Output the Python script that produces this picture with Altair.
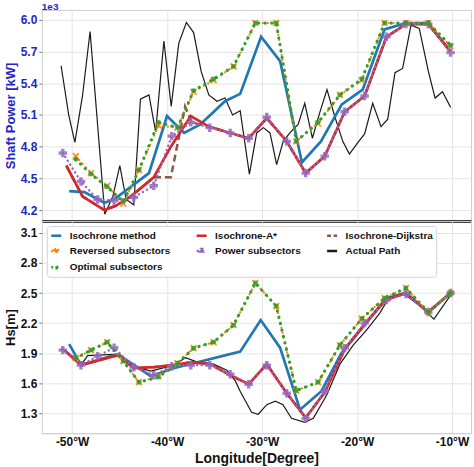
import altair as alt
import pandas as pd

FONT = "Liberation Sans"
BLUE = "#2424c4"
GRID = "#e4e4e4"

SERIES = ["Isochrone method", "Isochrone-A*", "Isochrone-Dijkstra",
          "Reversed subsectors", "Power subsectors", "Actual Path",
          "Optimal subsectors"]
COLORS = ["#1f77b4", "#d62728", "#8c564b", "#ff7f0e", "#9467bd", "#1a1a1a", "#2ca02c"]

LON_TICKS = [-50, -40, -30, -20, -10]
KW_TICKS = [4200, 4500, 4800, 5100, 5400, 5700, 6000]
HS_TICKS = [1.3, 1.6, 1.9, 2.2, 2.5, 2.8, 3.1]

# ---------------- shaft power [kW] ----------------
iso_lon_p = [-50.3, -48.7, -46.6, -45.6, -41.9, -40.0, -38.2, -36.5, -33.9, -32.3,
             -30.1, -28.1, -25.8, -23.8, -21.6, -19.4, -17.1, -14.85, -12.5, -10.15]
iso_kw = [4380, 4370, 4270, 4300, 4550, 5090, 4930, 5010, 5230, 5300,
          5840, 5610, 4650, 4850, 5200, 5340, 5910, 5970, 5970, 5700]

astar_lon_p = [-50.6, -48.9, -46.6, -45.4, -43.8, -41.4, -39.6, -37.5, -35.6, -33.35,
               -31.4, -29.5, -27.4, -25.4, -23.4, -21.3, -19.2, -16.9, -14.85, -12.5, -10.15]
astar_kw = [4620, 4330, 4200, 4240, 4330, 4510, 4800, 5090, 4990, 4930,
            4880, 5070, 4850, 4550, 4710, 5130, 5280, 5840, 5960, 5960, 5700]

dijk_lon_p = [-50.6, -48.9, -46.6, -45.4, -43.8, -41.4, -39.6, -38.1, -37.4, -35.6, -33.35,
              -31.4, -29.5, -27.4, -25.4, -23.4, -21.3, -19.2, -16.9, -14.85, -12.5, -10.15]
dijk_kw = [4620, 4330, 4200, 4240, 4330, 4510, 4510, 5180, 5030, 4990, 4930,
           4880, 5070, 4850, 4550, 4710, 5130, 5280, 5840, 5960, 5960, 5700]

power_lon = [-50.97, -49.06, -47.3, -45.57, -43.5, -41.4, -39.5, -37.5, -35.5, -33.35,
             -31.4, -29.5, -27.4, -25.4, -23.4, -21.3, -19.2, -16.9, -14.85, -12.5, -10.15]
power_kw = [4740, 4470, 4300, 4290, 4320, 4430, 4900, 5030, 4980, 4930,
            4880, 5080, 4850, 4550, 4710, 5130, 5280, 5840, 5960, 5960, 5690]

rev_lon = [-49.6, -48.0, -46.3, -44.6, -42.95, -40.9, -38.9, -37.2, -35.1, -33.0,
           -30.7, -28.5, -26.4, -24.1, -21.8, -19.5, -17.1, -14.85, -12.5, -10.15]
rev_kw = [4710, 4550, 4430, 4260, 4580, 5000, 4980, 5320, 5430, 5560,
          5970, 5970, 4850, 5020, 5290, 5430, 5970, 5970, 5970, 5750]
opt_kw = [4680, 4540, 4420, 4280, 4580, 5030, 4980, 5330, 5440, 5560,
          5970, 5970, 4850, 5030, 5290, 5440, 5970, 5970, 5970, 5760]

actual_lon_p = [-51.15, -50.35, -49.7, -48.9, -48.1, -46.55, -45.7, -44.97, -44.3, -43.5,
                -42.8, -41.9, -41.2, -40.33, -39.56, -38.76, -37.96, -37.2, -36.4, -35.6,
                -34.74, -33.9, -33.1, -32.3, -31.33, -30.56, -29.86, -29.16, -28.46, -27.77,
                -27.07, -26.2, -25.5, -24.7, -23.93, -23.16, -22.36, -21.5, -20.8, -19.9,
                -19.2, -18.35, -17.47, -16.77, -16.0, -15.2, -14.32, -13.45, -12.48, -11.78,
                -11.0, -10.14]
actual_kw = [5566, 5100, 4840, 5280, 5890, 4160, 4330, 4620, 4300, 4250,
             5250, 5290, 4940, 5800, 5180, 5780, 5975, 5880, 5510, 5290,
             5230, 5260, 5100, 5140, 4540, 4930, 4980, 4930, 4630, 4850,
             4930, 5010, 5210, 4880, 5120, 5340, 5090, 4850, 4730, 4840,
             4920, 5210, 4990, 5060, 5500, 5540, 5950, 5920, 5510, 5260,
             5320, 5170]

# ---------------- significant wave height [m] ----------------
iso_lon_h = [-50.3, -49.06, -45.2, -41.7, -39.3, -32.3, -30.14, -28.1, -26.0, -23.75,
             -21.65, -19.4, -17.1, -15.0, -12.5, -10.15]
iso_hs = [1.99, 1.78, 1.89, 1.67, 1.75, 1.915, 2.23, 1.955, 1.335, 1.52,
          1.90, 2.16, 2.43, 2.50, 2.31, 2.50]

astar_lon_h = [-50.8, -49.06, -45.2, -43.5, -41.4, -39.3, -37.4, -35.45, -33.35, -31.4,
               -29.5, -27.4, -25.4, -23.4, -21.3, -19.1, -17.0, -14.85, -12.5, -10.15]
astar_hs = [1.93, 1.78, 1.88, 1.75, 1.76, 1.78, 1.81, 1.79, 1.68, 1.59,
            1.79, 1.50, 1.255, 1.51, 1.94, 2.20, 2.43, 2.50, 2.31, 2.50]

power_hs = [1.93, 1.78, 1.87, 1.955, 1.76, 1.68, 1.77, 1.78, 1.78, 1.69,
            1.59, 1.78, 1.50, 1.246, 1.52, 1.95, 2.20, 2.43, 2.49, 2.31, 2.50]

rev_hs = [1.85, 1.93, 2.01, 1.82, 1.61, 1.67, 1.80, 1.95, 2.01, 2.18,
          2.60, 2.37, 1.525, 1.61, 1.98, 2.245, 2.45, 2.55, 2.31, 2.50]
opt_hs = [1.85, 1.93, 2.01, 1.82, 1.61, 1.66, 1.80, 1.95, 2.01, 2.18,
          2.60, 2.37, 1.525, 1.61, 1.98, 2.245, 2.45, 2.55, 2.31, 2.50]

actual_lon_h = [-51.15, -48.9, -48.36, -45.05, -43.6, -41.7, -39.3, -38.06, -36.8, -35.1,
                -33.7, -32.8, -32.3, -31.1, -30.4, -29.5, -28.6, -27.8, -26.9, -25.5,
                -24.6, -23.2, -21.8, -20.4, -19.0, -17.6, -16.6, -15.2, -13.45, -11.9, -10.15]
actual_hs = [1.95, 1.80, 1.875, 1.89, 1.77, 1.72, 1.78, 1.855, 1.81, 1.79,
             1.73, 1.62, 1.52, 1.31, 1.29, 1.385, 1.42, 1.385, 1.25, 1.21,
             1.25, 1.48, 1.79, 1.98, 2.13, 2.30, 2.46, 2.50, 2.38, 2.24, 2.48]


def long_table(entries):
    rows = []
    for name, lons, vals in entries:
        for lo, v in zip(lons, vals):
            rows.append({"series": name, "lon": lo, "val": v})
    return pd.DataFrame(rows)


power_df = long_table([
    ("Isochrone method", iso_lon_p, iso_kw),
    ("Isochrone-A*", astar_lon_p, astar_kw),
    ("Isochrone-Dijkstra", dijk_lon_p, dijk_kw),
    ("Reversed subsectors", rev_lon, rev_kw),
    ("Power subsectors", power_lon, power_kw),
    ("Actual Path", actual_lon_p, actual_kw),
    ("Optimal subsectors", rev_lon, opt_kw),
])
hs_df = long_table([
    ("Isochrone method", iso_lon_h, iso_hs),
    ("Isochrone-A*", astar_lon_h, astar_hs),
    ("Isochrone-Dijkstra", astar_lon_h, astar_hs),
    ("Reversed subsectors", rev_lon, rev_hs),
    ("Power subsectors", power_lon, power_hs),
    ("Actual Path", actual_lon_h, actual_hs),
    ("Optimal subsectors", rev_lon, opt_hs),
])

# line styling per series, in drawing order (bottom first)
LINE_STYLE = {
    "Actual Path": dict(strokeWidth=1.2),
    "Isochrone method": dict(strokeWidth=2.7),
    "Isochrone-Dijkstra": dict(strokeWidth=2.5, strokeDash=[7, 4]),
    "Isochrone-A*": dict(strokeWidth=2.7),
    "Reversed subsectors": dict(strokeWidth=2.2, strokeDash=[0.1, 5], strokeCap="round"),
    "Power subsectors": dict(strokeWidth=2.4, strokeDash=[0.1, 4.5], strokeCap="round"),
    "Optimal subsectors": dict(strokeWidth=3.2, strokeDash=[0.1, 6.5], strokeCap="round"),
}
DRAW_ORDER = ["Actual Path", "Isochrone method", "Isochrone-Dijkstra", "Isochrone-A*",
              "Reversed subsectors", "Power subsectors", "Optimal subsectors"]

X_SHAPE = ("M0.516,-0.827L0.827,-0.516L0.311,0L0.827,0.516L0.516,0.827L0,0.311"
           "L-0.516,0.827L-0.827,0.516L-0.311,0L-0.827,-0.516L-0.516,-0.827L0,-0.311Z")
MARKERS = {
    "Reversed subsectors": (X_SHAPE, 75),
    "Power subsectors": ("cross", 72),
    "Optimal subsectors": ("circle", 24),
}

# legend glyphs: a short line with the marker in its centre
LEG_LINE = "M-1,0H1"
LEG_X = ("M0.2,-0.32L0.32,-0.2L0.12,0L0.32,0.2L0.2,0.32L0,0.12"
         "L-0.2,0.32L-0.32,0.2L-0.12,0L-0.32,-0.2L-0.2,-0.32L0,-0.12Z")
LEG_PLUS = "M-0.13,-0.38H0.13V-0.13H0.38V0.13H0.13V0.38H-0.13V0.13H-0.38V-0.13H-0.13Z"
LEG_DOT = "M0.22,0A0.22,0.22,0,1,1,-0.22,0A0.22,0.22,0,1,1,0.22,0Z"
LEG_SHAPE = {"Reversed subsectors": LEG_LINE + LEG_X,
             "Power subsectors": LEG_LINE + LEG_PLUS,
             "Optimal subsectors": LEG_LINE + LEG_DOT}
LEG_DASH = {"Isochrone-Dijkstra": [4, 2.5], "Reversed subsectors": [2, 3],
            "Power subsectors": [2, 3], "Optimal subsectors": [2, 3]}


def ternary(mapping, default):
    expr = default
    for key, val in mapping.items():
        expr = f"datum.value === '{key}' ? {val} : ({expr})"
    return expr


shape_expr = ternary({k: f"'{v}'" for k, v in LEG_SHAPE.items()}, f"'{LEG_LINE}'")
fill_expr = ternary({k: f"'{COLORS[SERIES.index(k)]}'" for k in LEG_SHAPE}, "'transparent'")
dash_expr = ternary({k: f"[{v[0]},{v[1]}]" for k, v in LEG_DASH.items()}, "[1,0]")

legend = alt.Legend(
    title=None, orient="top-left", offset=5, columns=3, direction="horizontal",
    labelFont=FONT, labelFontSize=10, labelFontWeight="bold", labelColor="#111111",
    symbolStrokeWidth=2.5, symbolOffset=0, labelOffset=7,
    columnPadding=20, rowPadding=2.5, padding=3,
    fillColor="white", strokeColor="#d4d4d4", cornerRadius=3,
    symbolType=alt.ExprRef(expr=shape_expr),
    symbolFillColor=alt.ExprRef(expr=fill_expr),
    symbolDash=alt.ExprRef(expr=dash_expr),
    symbolOpacity=1,
)

x_scale = alt.Scale(domain=[-53.18, -8.0], nice=False, zero=False)


def panel(df, y, show_x, show_legend, height):
    if show_x:
        x_axis = alt.Axis(values=LON_TICKS, labelExpr="datum.value + '°W'",
                          title="Longitude[Degree]", grid=True, gridColor=GRID,
                          ticks=False, domainColor="#cfcfcf", labelFont=FONT,
                          labelFontSize=12, labelFontWeight="bold", labelColor="#111111",
                          labelPadding=3, titleFont=FONT, titleFontSize=14,
                          titleFontWeight="bold", titleColor="#111111", titlePadding=4)
    else:
        x_axis = alt.Axis(values=LON_TICKS, labels=False, ticks=False, title=None,
                          grid=True, gridColor=GRID, domainColor="#3c3c3c", domainWidth=3)
    x = alt.X("lon:Q", scale=x_scale, axis=x_axis)
    color_scale = alt.Scale(domain=SERIES, range=COLORS)

    layers = []
    for k, name in enumerate(DRAW_ORDER):
        leg = legend if (show_legend and k == 0) else None
        layers.append(
            alt.Chart(df).transform_filter(alt.datum.series == name)
            .mark_line(**LINE_STYLE[name])
            .encode(x=x, y=y,
                    color=alt.Color("series:N", scale=color_scale, legend=leg))
        )
        if name in MARKERS:
            shape, size = MARKERS[name]
            layers.append(
                alt.Chart(df).transform_filter(alt.datum.series == name)
                .mark_point(shape=shape, size=size, filled=True, opacity=0.85,
                            color=COLORS[SERIES.index(name)])
                .encode(x=x, y=y)
            )
    return alt.layer(*layers).properties(width=431, height=height)


y_power = alt.Y("val:Q", scale=alt.Scale(domain=[4096, 6094], nice=False, zero=False),
                axis=alt.Axis(values=KW_TICKS, labelExpr="format(datum.value / 1000, '.1f')",
                              title="Shaft Power [kW]", grid=True, gridColor=GRID,
                              domain=False, tickSize=3, tickColor="#777777",
                              labelFont=FONT, labelFontSize=12, labelFontWeight="bold",
                              labelColor=BLUE, labelPadding=2,
                              titleFont=FONT, titleFontSize=13, titleFontWeight="bold",
                              titleColor=BLUE, titlePadding=3))
y_hs = alt.Y("val:Q", scale=alt.Scale(domain=[1.101, 3.219], nice=False, zero=False),
             axis=alt.Axis(values=HS_TICKS, format=".1f", title="Hs[m]", grid=True,
                           gridColor=GRID, domain=False, tickSize=3, tickColor="#777777",
                           labelFont=FONT, labelFontSize=12, labelFontWeight="bold",
                           labelColor="#111111", labelPadding=2,
                           titleFont=FONT, titleFontSize=13, titleFontWeight="bold",
                           titleColor="#111111", titlePadding=3))

top = panel(power_df, y_power, False, False, 212).properties(
    title=alt.TitleParams("1e3", anchor="start", frame="group", font=FONT,
                          fontSize=10, fontWeight="bold", color=BLUE, offset=-2)
)
bottom = panel(hs_df, y_hs, True, True, 213)

chart = (
    alt.vconcat(top, bottom, spacing=0, bounds="flush")
    .resolve_scale(color="independent")
    .properties(padding={"left": 3, "top": 0, "right": 2, "bottom": 1})
    .configure_view(stroke="#cfcfcf", strokeWidth=1)
)

chart.save("out.html", embed_options={"renderer": "svg", "actions": False})
